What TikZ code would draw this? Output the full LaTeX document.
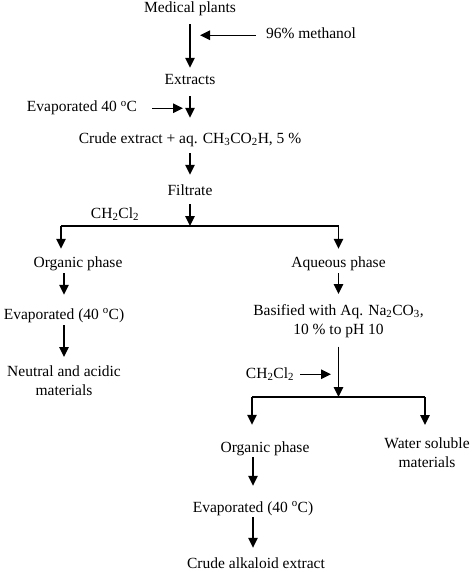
\documentclass[tikz,border=0pt]{standalone}
\usepackage{fontspec}
\setmainfont{Liberation Serif}
\usetikzlibrary{arrows.meta,calc}
\begin{document}
\begin{tikzpicture}[x=1pt,y=-1pt,
  lbl/.style={inner sep=0pt, text height=11pt, text depth=3.5pt, font=\fontsize{15.5}{19}\selectfont},
  mlbl/.style={inner sep=0pt, align=center, anchor=north, font=\fontsize{15.5}{19}\selectfont},
  arr/.style={line width=1.4pt, -{Triangle[length=10pt,width=9.5pt]}},
  ln/.style={line width=1.4pt}]
\useasboundingbox (0,0) rectangle (474,572);
% text nodes
\node[lbl] (mp) at (190,9.25) {Medical plants};
\node[lbl] (meth) at (311,35.25) {96\% methanol};
\node[lbl] (ex) at (190,81.25) {Extracts};
\node[lbl] (ev1) at (82,108.25) {Evaporated 40 \textsuperscript{o}C};
\node[lbl] (crude) at (190,139.25) {Crude extract + aq. CH\textsubscript{3}CO\textsubscript{2}H, 5 \%};
\node[lbl] (filt) at (190,191.25) {Filtrate};
\node[lbl] (ch1) at (115,214.25) {CH\textsubscript{2}Cl\textsubscript{2}};
\node[lbl] (org1) at (78,263.25) {Organic phase};
\node[lbl] (aq) at (338.5,263.25) {Aqueous phase};
\node[lbl] (ev2) at (64,315.25) {Evaporated (40 \textsuperscript{o}C)};
\node[mlbl] (bas) at (338.5,304.4) {Basified with Aq. Na\textsubscript{2}CO\textsubscript{3},\\10 \% to pH 10};
\node[mlbl] (neut) at (64,365.4) {Neutral and acidic\\materials};
\node[lbl] (ch2) at (270,374.25) {CH\textsubscript{2}Cl\textsubscript{2}};
\node[lbl] (org2) at (265,448.25) {Organic phase};
\node[mlbl] (ws) at (427,437.4) {Water soluble\\materials};
\node[lbl] (ev3) at (253,508.25) {Evaporated (40 \textsuperscript{o}C)};
\node[lbl] (ca) at (256,564.25) {Crude alkaloid extract};
% junctions
\coordinate (s1) at (190,226);
\coordinate (s1L) at (61,226);
\coordinate (s1R) at (338.5,226);
\coordinate (s2) at (338.5,397);
\coordinate (s2L) at (252,397);
\coordinate (s2R) at (425,397);
% connectors
\draw[arr] ([yshift=-7.5pt]mp.south) -- ([yshift=6pt]mp.south |- ex.north);
\draw[arr] ([xshift=-10pt]meth.west) -- ([xshift=10pt]meth.west -| mp.south);
\draw[arr] ([yshift=-7.5pt]ex.south) -- ([yshift=14pt]crude.north);
\draw[arr] ([xshift=15pt]ev1.east) -- ([xshift=-7pt]ev1.east -| ex.south);
\draw[arr] ([yshift=-6.5pt]crude.south) -- ([yshift=9pt]filt.north);
\draw[arr] ([yshift=-5.5pt]filt.south) -- (filt.south |- s1);
\draw[ln] (s1L) -- (s1R);
\draw[arr] (s1L) -- ([yshift=7pt]s1L |- org1.north);
\draw[arr] (s1R) -- ([yshift=7pt]aq.north);
\draw[arr] ([yshift=-2.5pt]org1.south -| ev2.north) -- ([yshift=13pt]ev2.north);
\draw[arr] ([yshift=-2.5pt]ev2.south) -- ([yshift=8.4pt]neut.north);
\draw[arr] ([yshift=-2.5pt]aq.south) -- ([yshift=10.4pt]bas.north);
\draw[arr] ([yshift=-8.5pt]bas.south) -- (s2);
\draw[arr] ([xshift=6pt]ch2.east) -- ([xshift=-7.5pt]ch2.east -| s2);
\draw[ln] (s2L) -- (s2R);
\draw[arr] (s2L) -- ([yshift=16pt]s2L |- org2.north);
\draw[arr] (s2R) -- ([yshift=12.4pt]s2R |- ws.north);
\draw[arr] ([yshift=-1.5pt]org2.south -| ev3.north) -- ([yshift=15pt]ev3.north);
\draw[arr] ([yshift=-1.5pt]ev3.south) -- ([yshift=9pt]ev3.south |- ca.north);
\end{tikzpicture}
\end{document}
